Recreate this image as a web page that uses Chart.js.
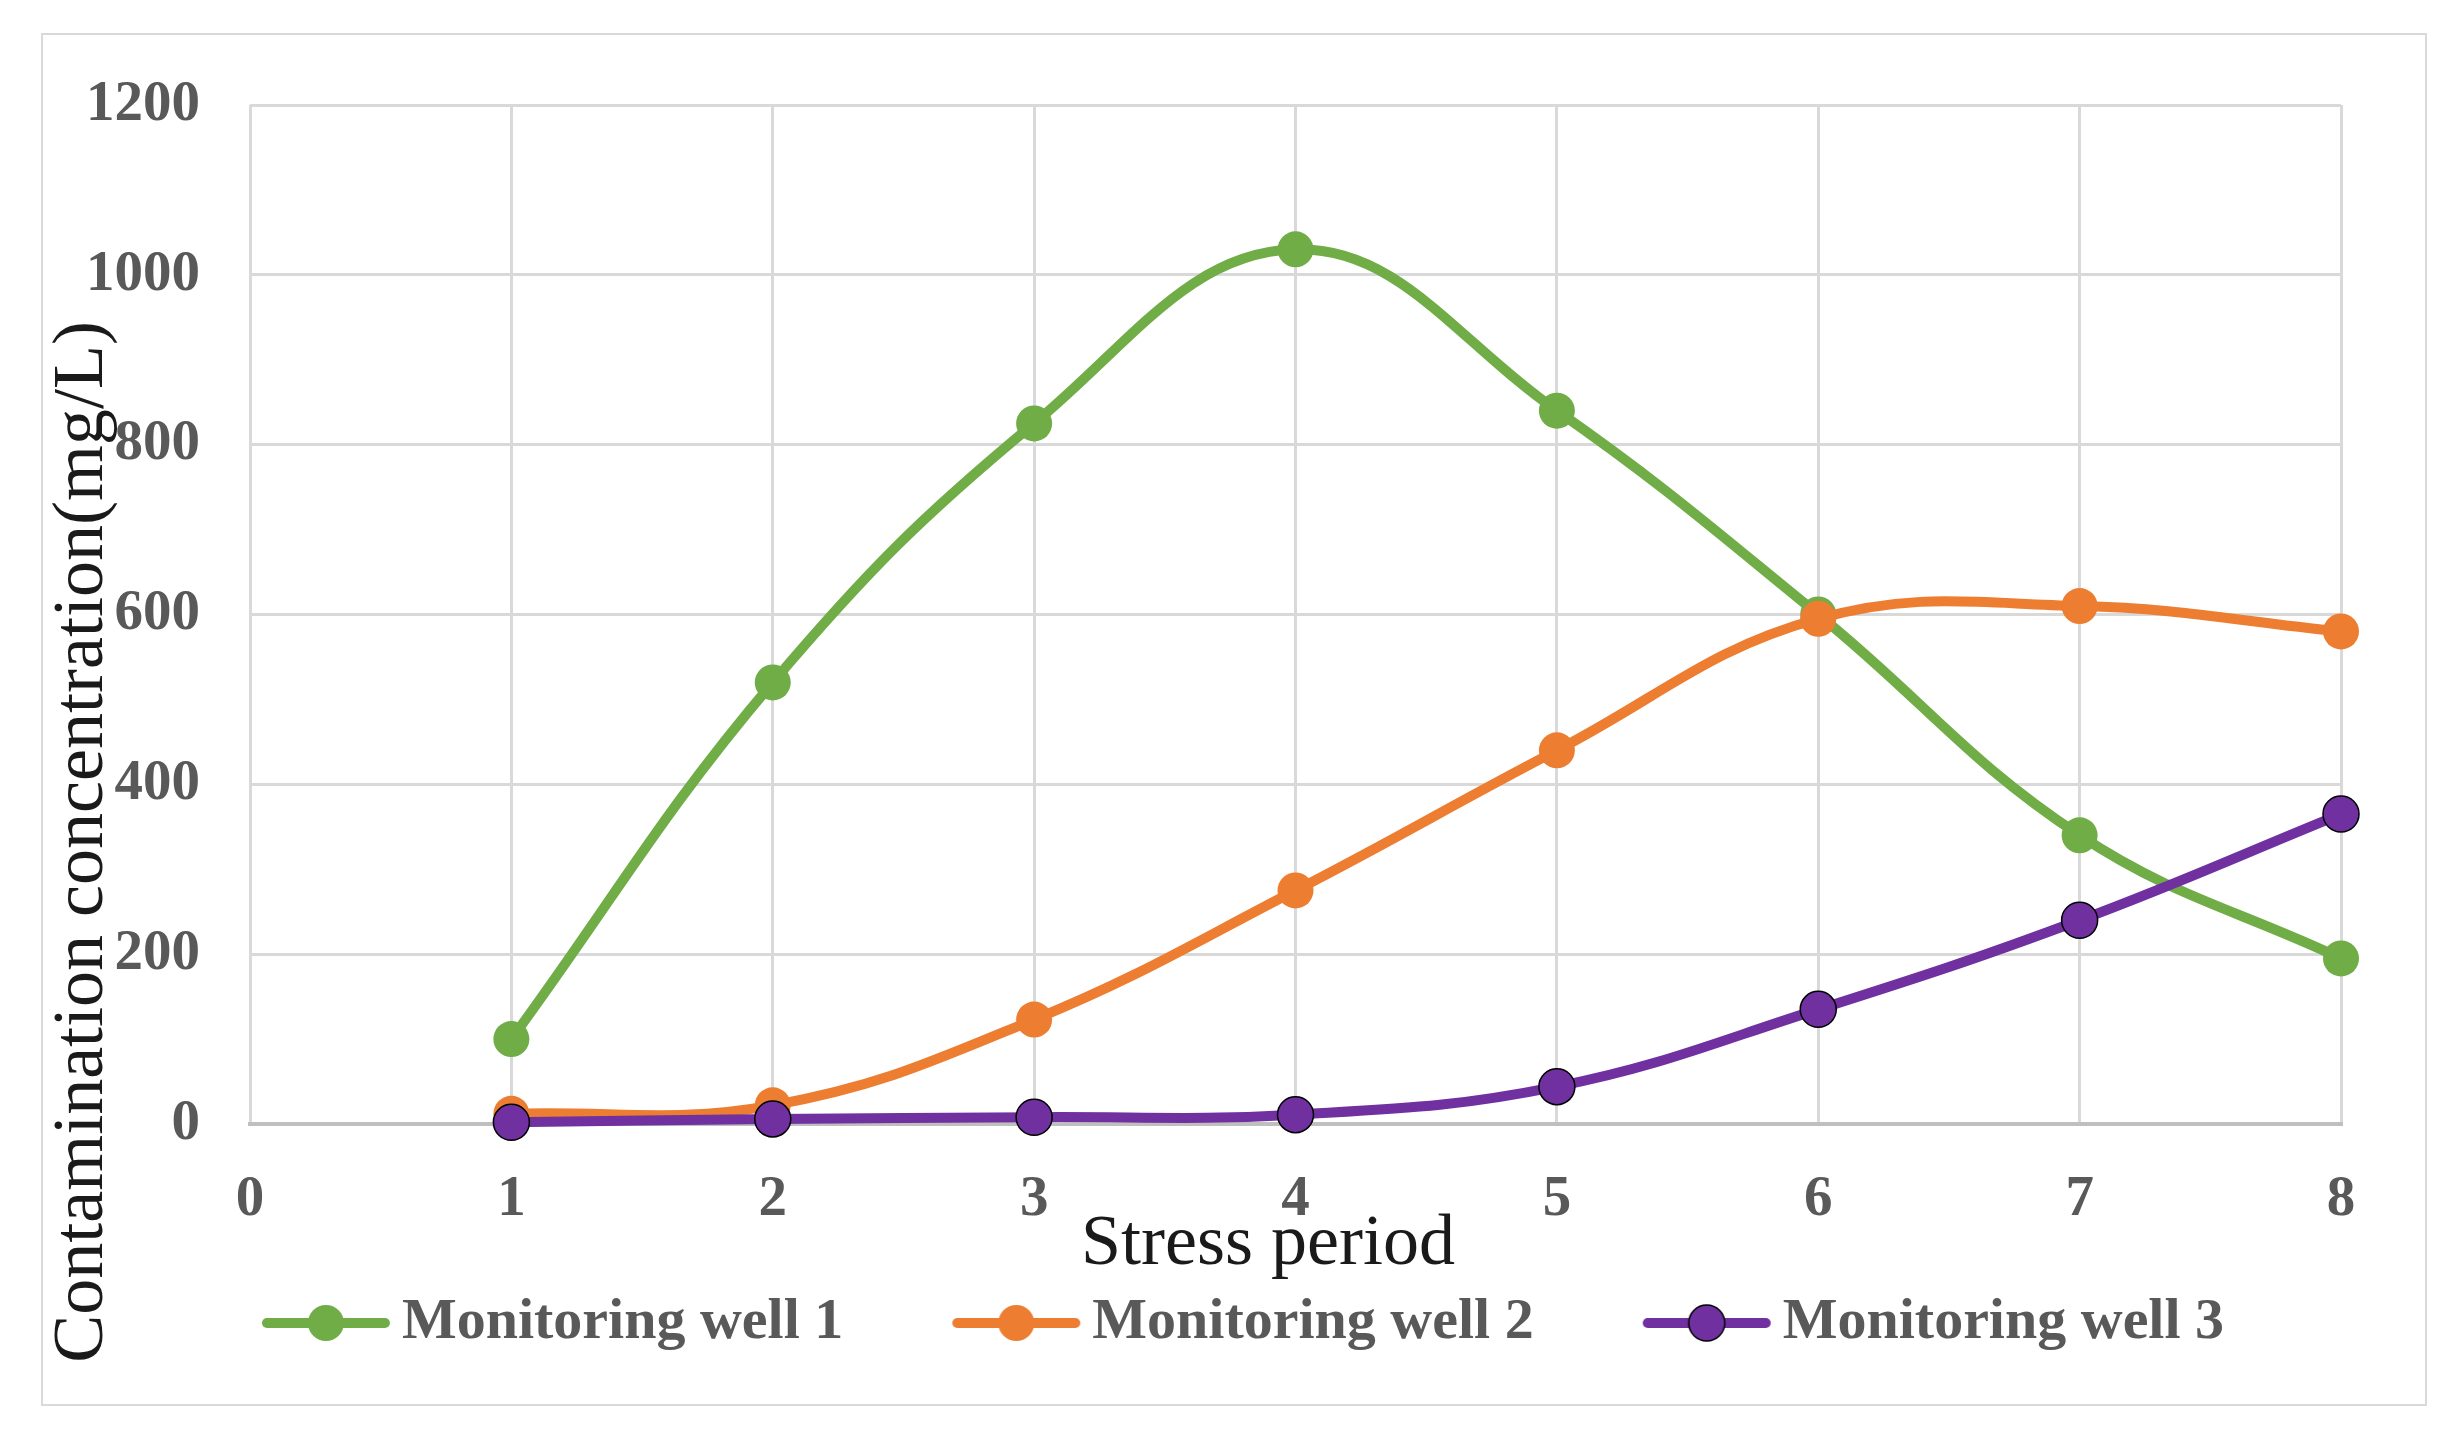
<!DOCTYPE html>
<html>
<head>
<meta charset="utf-8">
<script src="https://cdn.jsdelivr.net/npm/chart.js@4.4.0/dist/chart.umd.min.js"></script>
<style>
  html, body { margin: 0; padding: 0; background: #fff; }
  #wrap { position: relative; width: 2455px; height: 1429px; }
  #frame {
    position: absolute; left: 41px; top: 33px; width: 2382px; height: 1369px;
    border: 2px solid #d9d9d9; pointer-events: none;
  }
</style>
</head>
<body>
<div id="wrap">
  <canvas id="chart" width="2455" height="1429" style="width:2455px;height:1429px"></canvas>
  <div id="frame"></div>
</div>
<script>
// stress periods and concentrations (mg/L)
const periods = [1, 2, 3, 4, 5, 6, 7, 8];
const well1 = [100, 520, 825, 1030, 840, 600, 340, 195];
const well2 = [12, 22, 123, 275, 440, 595, 610, 580];
const well3 = [2, 6, 8, 11, 44, 135, 240, 365];
const seriesNames = ['Monitoring well 1', 'Monitoring well 2', 'Monitoring well 3'];
const seriesColors = ['#70ad47', '#ed7d31', '#7030a0'];
const xTicks = [0, 1, 2, 3, 4, 5, 6, 7, 8];
const yTicks = [0, 200, 400, 600, 800, 1000, 1200];
const xTitle = 'Stress period';
const yTitle = 'Contamination concentration(mg/L)';

const serif = '"Liberation Serif", "Times New Roman", serif';

function toPoints(values) {
  return values.map((v, i) => ({ x: periods[i], y: v }));
}

// legend sample: short line with a round marker, Excel style.
// the legend box is 210 wide; the visible sample sits at its right end
function legendSample(color, edge) {
  const c = document.createElement('canvas');
  c.width = 264;
  c.height = 44;
  const g = c.getContext('2d');
  g.strokeStyle = color;
  g.lineWidth = 10;
  g.lineCap = 'round';
  g.beginPath();
  g.moveTo(131, 22);
  g.lineTo(249, 22);
  g.stroke();
  g.beginPath();
  g.arc(190, 22, 18, 0, Math.PI * 2);
  g.fillStyle = color;
  g.fill();
  if (edge) {
    g.lineWidth = 1.5;
    g.strokeStyle = edge;
    g.stroke();
  }
  return c;
}
const samples = [
  legendSample(seriesColors[0]),
  legendSample(seriesColors[1]),
  legendSample(seriesColors[2], '#000'),
];

const axisTitles = {
  id: 'axisTitles',
  afterDraw(chart) {
    const ctx = chart.ctx;
    ctx.save();
    ctx.fillStyle = '#1a1a1a';
    ctx.font = '72px ' + serif;
    ctx.textAlign = 'center';
    ctx.textBaseline = 'alphabetic';
    ctx.fillText(xTitle, 1268, 1264);
    ctx.translate(102, 842);
    ctx.rotate(-Math.PI / 2);
    ctx.fillText(yTitle, 0, 0);
    ctx.restore();
  }
};

const datasets = [well1, well2, well3].map((vals, i) => ({
  label: seriesNames[i],
  data: toPoints(vals),
  borderColor: seriesColors[i],
  backgroundColor: seriesColors[i],
  borderWidth: 10,
  tension: 0.4,
  pointRadius: 18,
  pointBackgroundColor: seriesColors[i],
  pointBorderColor: i === 2 ? '#000' : seriesColors[i],
  pointBorderWidth: i === 2 ? 1.5 : 0,
  clip: false,
  order: 3 - i,
}));

new Chart(document.getElementById('chart'), {
  type: 'line',
  data: { datasets },
  options: {
    responsive: false,
    devicePixelRatio: 1,
    animation: false,
    events: [],
    layout: { padding: { top: 105, left: 0, right: 68, bottom: 67 } },
    scales: {
      x: {
        type: 'linear',
        min: 0,
        max: 8,
        afterBuildTicks: (s) => { s.ticks = xTicks.map(v => ({ value: v })); },
        afterFit: (s) => { s.height = 160; },
        grid: { color: '#d9d9d9', lineWidth: 3, drawTicks: false },
        border: { color: '#bfbfbf', width: 4 },
        ticks: {
          padding: 48,
          color: '#595959',
          font: { family: serif, size: 57, weight: 'bold', lineHeight: 1 },
          callback: (v) => String(v),
        },
      },
      y: {
        min: 0,
        max: 1200,
        afterBuildTicks: (s) => { s.ticks = yTicks.map(v => ({ value: v })); },
        afterFit: (s) => { s.width = 250; },
        grid: { color: '#d9d9d9', lineWidth: 3, drawTicks: false },
        border: { display: false },
        ticks: {
          padding: 50,
          color: '#595959',
          font: { family: serif, size: 57, weight: 'bold', lineHeight: 1 },
          callback: (v) => String(v),
        },
      },
      yRight: {
        position: 'right',
        display: true,
        afterFit: (s) => { s.width = 46; },
        grid: { display: false },
        border: { display: false },
        ticks: { display: false },
      },
    },
    plugins: {
      tooltip: { enabled: false },
      legend: {
        position: 'bottom',
        labels: {
          usePointStyle: true,
          pointStyleWidth: 210,
          padding: 10,
          color: '#595959',
          font: { family: serif, size: 58, weight: 'bold' },
          sort: (a, b) => a.datasetIndex - b.datasetIndex,
          generateLabels: (chart) => {
            const items = Chart.defaults.plugins.legend.labels.generateLabels(chart);
            items.forEach(it => { it.pointStyle = samples[it.datasetIndex]; });
            return items;
          },
        },
      },
    },
  },
  plugins: [axisTitles],
});
</script>
</body>
</html>
